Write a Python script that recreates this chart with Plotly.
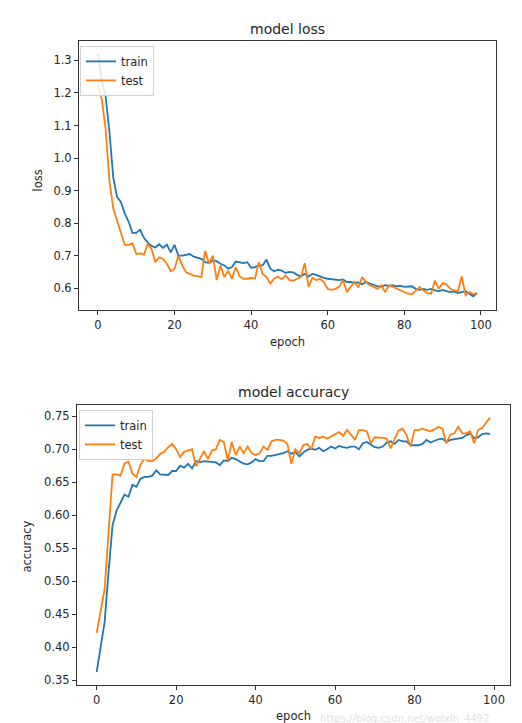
import plotly.graph_objects as go

W, H = 522, 723

epochs = list(range(100))

train_loss = [
    1.320, 1.240, 1.190, 1.080, 0.940, 0.880, 0.865, 0.830, 0.805, 0.770,
    0.770, 0.780, 0.755, 0.740, 0.730, 0.725, 0.735, 0.724, 0.734, 0.710,
    0.733, 0.700, 0.700, 0.703, 0.705, 0.697, 0.693, 0.690, 0.680, 0.677,
    0.685, 0.683, 0.675, 0.670, 0.660, 0.665, 0.682, 0.680, 0.677, 0.680,
    0.663, 0.665, 0.670, 0.670, 0.688, 0.660, 0.652, 0.657, 0.654, 0.647,
    0.650, 0.649, 0.641, 0.636, 0.644, 0.636, 0.644, 0.641, 0.636, 0.632,
    0.629, 0.627, 0.625, 0.625, 0.627, 0.619, 0.619, 0.616, 0.618, 0.612,
    0.619, 0.614, 0.609, 0.606, 0.604, 0.609, 0.607, 0.609, 0.606, 0.607,
    0.604, 0.604, 0.606, 0.598, 0.595, 0.598, 0.595, 0.598, 0.593, 0.591,
    0.595, 0.591, 0.588, 0.590, 0.585, 0.588, 0.591, 0.583, 0.575, 0.585,
]
test_loss = [
    1.225, 1.180, 1.090, 0.930, 0.845, 0.810, 0.775, 0.733, 0.733, 0.738,
    0.705, 0.707, 0.703, 0.736, 0.720, 0.680, 0.695, 0.690, 0.675, 0.652,
    0.660, 0.700, 0.670, 0.649, 0.644, 0.639, 0.637, 0.634, 0.715, 0.675,
    0.700, 0.625, 0.670, 0.634, 0.654, 0.629, 0.665, 0.636, 0.629, 0.629,
    0.632, 0.629, 0.680, 0.644, 0.634, 0.614, 0.629, 0.636, 0.627, 0.639,
    0.625, 0.623, 0.629, 0.634, 0.677, 0.604, 0.632, 0.625, 0.629, 0.619,
    0.598, 0.595, 0.598, 0.604, 0.625, 0.588, 0.604, 0.619, 0.602, 0.634,
    0.619, 0.609, 0.604, 0.598, 0.609, 0.588, 0.609, 0.604, 0.598, 0.593,
    0.588, 0.583, 0.581, 0.593, 0.604, 0.593, 0.585, 0.583, 0.623, 0.598,
    0.616, 0.612, 0.598, 0.593, 0.591, 0.636, 0.578, 0.588, 0.581, 0.585,
]

train_acc = [
    0.363, 0.400, 0.438, 0.515, 0.585, 0.607, 0.618, 0.631, 0.628, 0.646,
    0.643, 0.655, 0.658, 0.658, 0.660, 0.668, 0.662, 0.662, 0.661, 0.667,
    0.667, 0.675, 0.672, 0.678, 0.671, 0.682, 0.680, 0.682, 0.681, 0.680,
    0.680, 0.676, 0.683, 0.682, 0.687, 0.685, 0.681, 0.678, 0.677, 0.680,
    0.685, 0.682, 0.682, 0.690, 0.690, 0.691, 0.692, 0.694, 0.697, 0.693,
    0.696, 0.689, 0.695, 0.699, 0.701, 0.699, 0.702, 0.697, 0.700, 0.704,
    0.701, 0.705, 0.703, 0.702, 0.704, 0.704, 0.700, 0.709, 0.711, 0.707,
    0.703, 0.702, 0.704, 0.710, 0.712, 0.708, 0.714, 0.712, 0.712, 0.706,
    0.706, 0.706, 0.708, 0.714, 0.710, 0.713, 0.715, 0.716, 0.711, 0.714,
    0.715, 0.715, 0.717, 0.721, 0.724, 0.717, 0.718, 0.723, 0.724, 0.723,
]
test_acc = [
    0.422, 0.458, 0.488, 0.575, 0.662, 0.662, 0.660, 0.678, 0.681, 0.663,
    0.658, 0.676, 0.686, 0.682, 0.682, 0.686, 0.693, 0.696, 0.703, 0.708,
    0.700, 0.688, 0.696, 0.698, 0.700, 0.674, 0.686, 0.697, 0.685, 0.698,
    0.700, 0.714, 0.711, 0.683, 0.711, 0.691, 0.704, 0.694, 0.704, 0.694,
    0.691, 0.694, 0.704, 0.699, 0.712, 0.714, 0.714, 0.713, 0.708, 0.678,
    0.700, 0.694, 0.706, 0.708, 0.700, 0.719, 0.717, 0.719, 0.716, 0.719,
    0.722, 0.726, 0.720, 0.729, 0.722, 0.714, 0.729, 0.729, 0.727, 0.709,
    0.718, 0.718, 0.717, 0.716, 0.701, 0.716, 0.728, 0.731, 0.721, 0.704,
    0.729, 0.729, 0.731, 0.729, 0.727, 0.730, 0.734, 0.731, 0.709, 0.722,
    0.724, 0.734, 0.724, 0.724, 0.727, 0.709, 0.729, 0.732, 0.740, 0.748,
]

x_ticks = [0, 20, 40, 60, 80, 100]
loss_ticks = [0.6, 0.7, 0.8, 0.9, 1.0, 1.1, 1.2, 1.3]
acc_ticks = [0.35, 0.40, 0.45, 0.50, 0.55, 0.60, 0.65, 0.70, 0.75]

BLUE = "#1f77b4"
ORANGE = "#ff7f0e"
FONT = "DejaVu Sans"
TXT = "#262626"

def px_x(p):
    return p / W

def px_y(p):
    return 1 - p / H

fig = go.Figure()
fig.add_trace(go.Scatter(x=epochs, y=train_loss, mode="lines", name="train",
                         line=dict(color=BLUE, width=1.8), xaxis="x", yaxis="y", legend="legend"))
fig.add_trace(go.Scatter(x=epochs, y=test_loss, mode="lines", name="test",
                         line=dict(color=ORANGE, width=1.8), xaxis="x", yaxis="y", legend="legend"))
fig.add_trace(go.Scatter(x=epochs, y=train_acc, mode="lines", name="train",
                         line=dict(color=BLUE, width=1.8), xaxis="x2", yaxis="y2", legend="legend2"))
fig.add_trace(go.Scatter(x=epochs, y=test_acc, mode="lines", name="test",
                         line=dict(color=ORANGE, width=1.8), xaxis="x2", yaxis="y2", legend="legend2"))

axis_common = dict(showline=True, linecolor="#333", linewidth=1, mirror=True,
                   showgrid=False, zeroline=False, ticks="outside", ticklen=4,
                   tickcolor="#333", tickfont=dict(family=FONT, size=11.5, color=TXT))

fig.update_layout(
    width=W, height=H,
    margin=dict(l=0, r=0, t=0, b=0),
    paper_bgcolor="white", plot_bgcolor="white",
    font=dict(family=FONT, color=TXT),
    xaxis=dict(domain=[px_x(71), px_x(488)], range=[-4.95, 103.95], tickvals=x_ticks,
               anchor="y", **axis_common),
    yaxis=dict(domain=[px_y(303), px_y(33)], range=[0.5325, 1.36], tickvals=loss_ticks,
               tickformat=".1f", anchor="x", **axis_common),
    xaxis2=dict(domain=[px_x(69), px_x(501.7)], range=[-4.95, 103.95], tickvals=x_ticks,
                anchor="y2", **axis_common),
    yaxis2=dict(domain=[px_y(679.3), px_y(398.3)], range=[0.3425, 0.7666], tickvals=acc_ticks,
                tickformat=".2f", anchor="x2", **axis_common),
    legend=dict(x=px_x(72), y=px_y(38), xanchor="left", yanchor="top",
                bgcolor="rgba(255,255,255,0.85)", bordercolor="#d0d0d0", borderwidth=1,
                font=dict(family=FONT, size=11.5, color=TXT), tracegroupgap=0,
                itemwidth=30),
    legend2=dict(x=px_x(71), y=px_y(403), xanchor="left", yanchor="top",
                 bgcolor="rgba(255,255,255,0.85)", bordercolor="#d0d0d0", borderwidth=1,
                 font=dict(family=FONT, size=11.5, color=TXT), tracegroupgap=0,
                 itemwidth=30),
    showlegend=True,
)

annos = [
    dict(text="model loss", x=px_x(279.5), y=px_y(21), size=14),
    dict(text="model accuracy", x=px_x(285), y=px_y(385), size=14),
    dict(text="epoch", x=px_x(279), y=px_y(335), size=11.5),
    dict(text="epoch", x=px_x(285), y=px_y(710), size=11.5),
]
for a in annos:
    fig.add_annotation(text=a["text"], x=a["x"], y=a["y"], xref="paper", yref="paper",
                       xanchor="center", yanchor="middle", showarrow=False,
                       font=dict(family=FONT, size=a["size"], color=TXT))

fig.add_annotation(text="loss", x=px_x(30), y=px_y(173), xref="paper", yref="paper",
                   xanchor="center", yanchor="middle", showarrow=False, textangle=-90,
                   font=dict(family=FONT, size=11.5, color=TXT))
fig.add_annotation(text="accuracy", x=px_x(19), y=px_y(540), xref="paper", yref="paper",
                   xanchor="center", yanchor="middle", showarrow=False, textangle=-90,
                   font=dict(family=FONT, size=11.5, color=TXT))
fig.add_annotation(text="https://blog.csdn.net/weixin_4492", x=px_x(310), y=px_y(713),
                   xref="paper", yref="paper", xanchor="left", yanchor="middle",
                   showarrow=False, font=dict(family=FONT, size=10, color="#e2e2e2"))

fig.write_html("out.html")
